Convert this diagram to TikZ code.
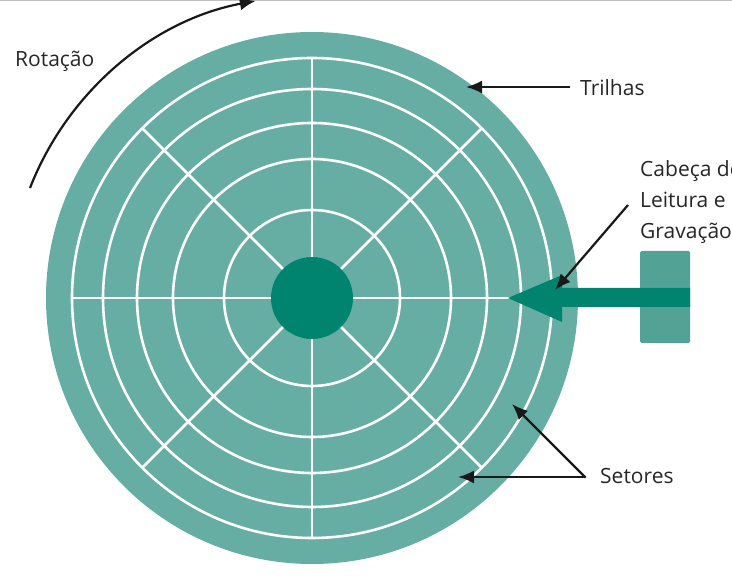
\documentclass[tikz,border=0pt]{standalone}
\usepackage{fontspec}
\setmainfont{Open Sans}
\usetikzlibrary{arrows.meta,calc}
\definecolor{disk}{HTML}{66AEA3}
\definecolor{hub}{HTML}{00846F}
\definecolor{headc}{HTML}{52A396}
\begin{document}
\begin{tikzpicture}[x=1pt,y=-1pt,
  ring/.style={draw=white,line width=2.6pt},
  lbl/.style={font=\fontsize{21}{31}\selectfont,text=black!85,inner sep=0pt},
  blk/.style={draw=black!90,line width=2.2pt,-{Latex[length=16pt,width=13pt]}}]
\useasboundingbox (0,0) rectangle (732,585);
\clip (0,0) rectangle (732,585);
\draw[gray!50,line width=1.5pt] (0,0.5) -- (732,0.5);
\coordinate (c) at (312,298);
\fill[disk] (c) circle (266);
\foreach \r in {240,209,175,139,88} \draw[ring] (c) circle (\r);
\draw[ring] ($(c)+(-240,0)$) -- ($(c)+(240,0)$);
\draw[ring] ($(c)+(0,-240)$) -- ($(c)+(0,240)$);
\foreach \a in {45,135,225,315} \draw[ring] (c) -- ++(\a:240);
\node[circle,fill=hub,minimum size=82pt,inner sep=0pt] (hubn) at (c) {};
% head
\node[fill=headc,minimum width=50pt,minimum height=92pt,inner sep=0pt,rounded corners=1.5pt] (head) at (665,297) {};
\coordinate (tip) at (508,298);
\fill[hub] (690,288) -- (562,288) -- (562,275) -- (tip) -- (562,322) -- (562,307) -- (690,307) -- cycle;
% rotation
\draw[black!90,line width=2.2pt,-{Latex[length=16pt,width=13pt]}] (30,188) arc[start angle=201.3,end angle=259.4,radius=302];
\node[lbl,anchor=base west] (rot) at (15,67) {Rotação};
% trilhas
\node[lbl,anchor=base west] (tri) at (580,96) {Trilhas};
\coordinate (t1) at (466,87);
\draw[blk] (570,87) -- (t1);
% cabeca
\node[lbl,anchor=north west,align=left] (cab) at (640,160) {Cabeça de\\Leitura e\\Gravação};
\coordinate (t2) at (555,290);
\draw[blk] (628,205) -- (t2);
% setores
\node[lbl,anchor=base west] (set) at (600,484) {Setores};
\coordinate (v) at (585,477);
\coordinate (s1) at (512,404);
\coordinate (s2) at (458,477);
\draw[blk,shorten <=-1pt] (v) -- (s1);
\draw[blk] (v) -- (s2);
\end{tikzpicture}
\end{document}
